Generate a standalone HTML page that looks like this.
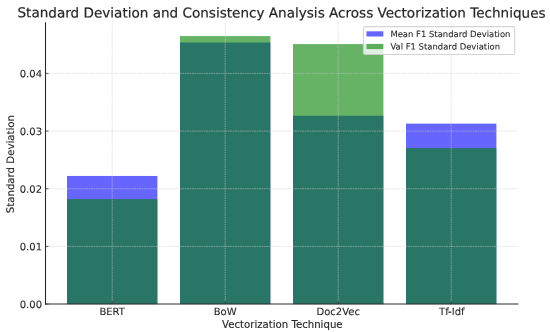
<!DOCTYPE html>
<html><head><meta charset="utf-8"><title>Standard Deviation and Consistency Analysis</title>
<style>
html,body{margin:0;padding:0;background:#fff;}
svg{display:block;}
text{font-family:"DejaVu Sans","Liberation Sans",sans-serif;fill:#262626;stroke:#262626;stroke-width:0.2px;}
</style></head><body>
<svg width="550" height="332" viewBox="0 0 550 332">
<rect x="0" y="0" width="550" height="332" fill="#ffffff"/>

<rect x="67.00" y="175.95" width="90.40" height="128.15" fill="#0000ff" fill-opacity="0.6"/>
<rect x="180.00" y="42.49" width="90.40" height="261.61" fill="#0000ff" fill-opacity="0.6"/>
<rect x="293.00" y="115.73" width="90.40" height="188.37" fill="#0000ff" fill-opacity="0.6"/>
<rect x="406.00" y="123.63" width="90.40" height="180.47" fill="#0000ff" fill-opacity="0.6"/>
<rect x="67.00" y="199.10" width="90.40" height="105.00" fill="#008000" fill-opacity="0.6"/>
<rect x="180.00" y="36.08" width="90.40" height="268.02" fill="#008000" fill-opacity="0.6"/>
<rect x="293.00" y="44.10" width="90.40" height="260.00" fill="#008000" fill-opacity="0.6"/>
<rect x="406.00" y="148.09" width="90.40" height="156.01" fill="#008000" fill-opacity="0.6"/>
<line x1="112.20" y1="22.2" x2="112.20" y2="304.1" stroke="#cccccc" stroke-opacity="0.85" stroke-width="0.6" stroke-dasharray="1.7,0.7" fill="none"/>
<line x1="225.20" y1="22.2" x2="225.20" y2="304.1" stroke="#cccccc" stroke-opacity="0.85" stroke-width="0.6" stroke-dasharray="1.7,0.7" fill="none"/>
<line x1="338.20" y1="22.2" x2="338.20" y2="304.1" stroke="#cccccc" stroke-opacity="0.85" stroke-width="0.6" stroke-dasharray="1.7,0.7" fill="none"/>
<line x1="451.20" y1="22.2" x2="451.20" y2="304.1" stroke="#cccccc" stroke-opacity="0.85" stroke-width="0.6" stroke-dasharray="1.7,0.7" fill="none"/>
<line x1="45.5" y1="246.43" x2="518.0" y2="246.43" stroke="#cccccc" stroke-opacity="0.85" stroke-width="0.6" stroke-dasharray="1.7,0.7" fill="none"/>
<line x1="45.5" y1="188.75" x2="518.0" y2="188.75" stroke="#cccccc" stroke-opacity="0.85" stroke-width="0.6" stroke-dasharray="1.7,0.7" fill="none"/>
<line x1="45.5" y1="131.08" x2="518.0" y2="131.08" stroke="#cccccc" stroke-opacity="0.85" stroke-width="0.6" stroke-dasharray="1.7,0.7" fill="none"/>
<line x1="45.5" y1="73.40" x2="518.0" y2="73.40" stroke="#cccccc" stroke-opacity="0.85" stroke-width="0.6" stroke-dasharray="1.7,0.7" fill="none"/>
<line x1="45.5" y1="304.10" x2="48.5" y2="304.10" stroke="#333" stroke-width="0.8"/>
<line x1="45.5" y1="246.43" x2="48.5" y2="246.43" stroke="#333" stroke-width="0.8"/>
<line x1="45.5" y1="188.75" x2="48.5" y2="188.75" stroke="#333" stroke-width="0.8"/>
<line x1="45.5" y1="131.08" x2="48.5" y2="131.08" stroke="#333" stroke-width="0.8"/>
<line x1="45.5" y1="73.40" x2="48.5" y2="73.40" stroke="#333" stroke-width="0.8"/>
<line x1="112.20" y1="304.1" x2="112.20" y2="301.1" stroke="#333" stroke-width="0.8"/>
<line x1="225.20" y1="304.1" x2="225.20" y2="301.1" stroke="#333" stroke-width="0.8"/>
<line x1="338.20" y1="304.1" x2="338.20" y2="301.1" stroke="#333" stroke-width="0.8"/>
<line x1="451.20" y1="304.1" x2="451.20" y2="301.1" stroke="#333" stroke-width="0.8"/>
<line x1="45.5" y1="22.2" x2="45.5" y2="304.5" stroke="#262626" stroke-width="1.05"/>
<line x1="45.0" y1="304.0" x2="518.5" y2="304.0" stroke="#2b2b2b" stroke-width="1.0"/>
<text x="42.1" y="308.05" transform="rotate(0.03 42.1 308.05)" font-size="10.05" style="stroke-width:0.1px" text-anchor="end">0.00</text>
<text x="42.1" y="250.38" transform="rotate(0.03 42.1 250.38)" font-size="10.05" style="stroke-width:0.1px" text-anchor="end">0.01</text>
<text x="42.1" y="192.70" transform="rotate(0.03 42.1 192.70)" font-size="10.05" style="stroke-width:0.1px" text-anchor="end">0.02</text>
<text x="42.1" y="135.03" transform="rotate(0.03 42.1 135.03)" font-size="10.05" style="stroke-width:0.1px" text-anchor="end">0.03</text>
<text x="42.1" y="77.35" transform="rotate(0.03 42.1 77.35)" font-size="10.05" style="stroke-width:0.1px" text-anchor="end">0.04</text>
<text x="112.20" y="315.0" transform="rotate(0.03 112.20 315.0)" font-size="10.0" style="stroke-width:0.1px" text-anchor="middle">BERT</text>
<text x="225.20" y="315.0" transform="rotate(0.03 225.20 315.0)" font-size="10.0" style="stroke-width:0.1px" text-anchor="middle">BoW</text>
<text x="338.20" y="315.0" transform="rotate(0.03 338.20 315.0)" font-size="10.0" style="stroke-width:0.1px" text-anchor="middle">Doc2Vec</text>
<text x="451.80" y="315.0" transform="rotate(0.03 451.80 315.0)" font-size="10.0" style="stroke-width:0.1px" text-anchor="middle">Tf-Idf</text>
<text x="282.3" y="328.25" transform="rotate(0.02 282.3 328.25)" font-size="10.16" style="stroke-width:0.12px" text-anchor="middle">Vectorization Technique</text>
<text transform="translate(13.9,164.1) rotate(-89.97)" font-size="10.2" style="stroke-width:0.12px" text-anchor="middle">Standard Deviation</text>
<text x="281.55" y="17.5" transform="rotate(0.03 281.55 17.5)" font-size="13.57" text-anchor="middle">Standard Deviation and Consistency Analysis Across Vectorization Techniques</text>
<rect x="363.4" y="26.6" width="151.3" height="27.9" rx="1.8" ry="1.8" fill="#ffffff" fill-opacity="0.8" stroke="#cccccc" stroke-opacity="0.85" stroke-width="1.1"/>
<rect x="366.5" y="31.3" width="16.8" height="5.2" fill="#0000ff" fill-opacity="0.6"/>
<rect x="366.5" y="43.9" width="16.8" height="5.2" fill="#008000" fill-opacity="0.6"/>
<text x="390.4" y="37" transform="rotate(0.03 450 37)" font-size="8.45" style="stroke-width:0.08px">Mean F1 Standard Deviation</text>
<text x="390.4" y="49.6" transform="rotate(0.03 450 49.6)" font-size="8.45" style="stroke-width:0.08px">Val F1 Standard Deviation</text>
</svg>
</body></html>
